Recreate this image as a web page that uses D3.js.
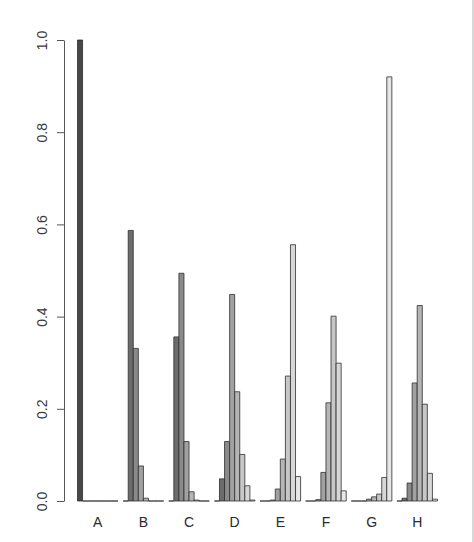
<!DOCTYPE html>
<html>
<head>
<meta charset="utf-8">
<script src="https://cdn.jsdelivr.net/npm/d3@7"></script>
<style>
  html, body { margin: 0; padding: 0; background: #fff; }
  text { font-family: "Liberation Sans", Arial, sans-serif; }
</style>
</head>
<body>
<div id="chart"></div>
<script>
var W = 474,
    H = 542;

// data, one array per group (bar 1..8 inside each group)
var categories = ["A", "B", "C", "D", "E", "F", "G", "H"];
var groupA = [1.000, 0,     0,     0,     0,     0,     0,     0];
var groupB = [0,     0.587, 0.331, 0.076, 0.006, 0,     0,     0];
var groupC = [0,     0.356, 0.494, 0.129, 0.020, 0.002, 0,     0];
var groupD = [0,     0.048, 0.129, 0.448, 0.237, 0.101, 0.033, 0.002];
var groupE = [0,     0,     0.002, 0.026, 0.091, 0.271, 0.556, 0.053];
var groupF = [0,     0,     0.003, 0.062, 0.213, 0.401, 0.299, 0.022];
var groupG = [0,     0,     0,     0.004, 0.009, 0.015, 0.051, 0.920];
var groupH = [0,     0.006, 0.039, 0.256, 0.424, 0.210, 0.060, 0.004];
var yTicks = [0, 0.2, 0.4, 0.6, 0.8, 1.0];

var groups = [groupA, groupB, groupC, groupD, groupE, groupF, groupG, groupH];
var nBars = 8;

// grey ramp, dark to light (like R's gray.colors)
var fills = ["#474747", "#6c6c6c", "#8a8a8a", "#a1a1a1", "#b5b5b5", "#c7c7c7", "#d7d7d7", "#e6e6e6"];

// flatten to bars, barplot layout: bar width 1, gap 1 between groups
var bars = [];
groups.forEach(function(g, gi) {
  g.forEach(function(v, bi) {
    var start = 1 + gi * (nBars + 1) + bi;
    bars.push({ x0: start, x1: start + 1, v: v, i: bi });
  });
});

var x = d3.scaleLinear().domain([1, groups.length * (nBars + 1)]).range([77.5, 437.5]);
var y = d3.scaleLinear().domain([0, 1]).range([501, 40]);

var svg = d3.select("#chart").append("svg")
  .attr("width", W)
  .attr("height", H)
  .attr("viewBox", "0 0 " + W + " " + H);

svg.append("rect").attr("width", W).attr("height", H).attr("fill", "#fff");
// light edge on the right of the picture
svg.append("rect").attr("x", 472).attr("y", 0).attr("width", 2).attr("height", H).attr("fill", "#d8d8d8");

// bars as paths so zero-height ones still draw a base line
svg.append("g").selectAll("path")
  .data(bars)
  .enter().append("path")
  .attr("d", function(d) {
    return "M" + x(d.x0) + "," + y(0) + "H" + x(d.x1) + "V" + y(d.v) + "H" + x(d.x0) + "Z";
  })
  .attr("fill", function(d) { return fills[d.i]; })
  .attr("stroke", "#2e2e2e")
  .attr("stroke-width", 0.8);

// y axis
var yAxis = d3.axisLeft(y)
  .tickValues(yTicks)
  .tickFormat(d3.format(".1f"))
  .tickSize(7)
  .tickSizeOuter(0);

var ya = svg.append("g")
  .attr("transform", "translate(64,0)")
  .call(yAxis);
ya.select(".domain").attr("stroke", "#555");
ya.selectAll(".tick line").attr("stroke", "#555");
ya.selectAll(".tick text")
  .attr("transform", "rotate(-90)")
  .attr("x", 0)
  .attr("y", -17)
  .attr("dy", 0)
  .attr("text-anchor", "middle")
  .attr("fill", "#3a3a3a")
  .style("font-size", "14px")
  .style("font-family", "'Liberation Sans', Arial, sans-serif");

// category names under each group
svg.append("g").selectAll("text")
  .data(categories)
  .enter().append("text")
  .attr("x", function(d, i) { return x(1 + i * (nBars + 1) + nBars / 2); })
  .attr("y", 527)
  .attr("text-anchor", "middle")
  .attr("fill", "#2a2a2a")
  .style("font-size", "14px")
  .text(function(d) { return d; });
</script>
</body>
</html>
